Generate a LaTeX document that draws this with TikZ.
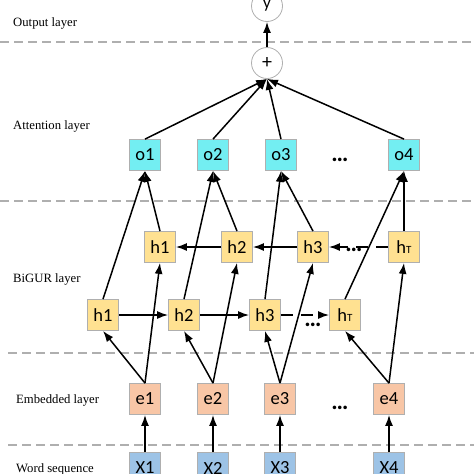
\documentclass[tikz,border=0pt]{standalone}
\usepackage{fontspec}
\setmainfont{Liberation Serif}
\newfontfamily\boxfont{Carlito}
\usetikzlibrary{arrows.meta}
\definecolor{ocol}{RGB}{115,238,242}
\definecolor{hcol}{RGB}{255,225,145}
\definecolor{ecol}{RGB}{248,198,166}
\definecolor{xcol}{RGB}{157,195,230}
\definecolor{bordercol}{RGB}{175,175,175}
\definecolor{sepcol}{RGB}{175,175,175}
\tikzset{
  unitbox/.style={draw=bordercol, line width=0.8pt, minimum width=31pt, minimum height=31pt, inner sep=0pt, font=\boxfont\fontsize{18.5}{20}\selectfont},
  obox/.style={unitbox, fill=ocol},
  hbox/.style={unitbox, fill=hcol},
  ebox/.style={unitbox, fill=ecol},
  xbox/.style={unitbox, fill=xcol},
  opcirc/.style={circle, draw=bordercol, line width=0.8pt, fill=white, minimum size=31pt, inner sep=0pt, font=\boxfont\fontsize{20}{22}\selectfont},
  layerlabel/.style={anchor=base west, inner sep=0pt, font=\fontsize{12.7}{14}\selectfont},
  sepline/.style={draw=sepcol, line width=1.2pt, dash pattern=on 9pt off 5pt},
  conn/.style={draw=black, line width=1.5pt, -{Latex[length=11pt,width=8pt]}},
  dconn/.style={conn, dash pattern=on 12pt off 8pt},
  dotsnode/.style={inner sep=0pt, font=\boxfont\bfseries\fontsize{24}{24}\selectfont},
}
\newcommand{\hT}{h{\fontsize{11}{11}\selectfont T}}
\begin{document}
\begin{tikzpicture}[x=1pt,y=-1pt]
\useasboundingbox (0,0) rectangle (474,474);
% separators
\draw[sepline] (0,42) -- (474,42);
\draw[sepline] (0,201) -- (474,201);
\draw[sepline] (8,353) -- (474,353);
\draw[sepline] (8,445) -- (474,445);
% labels
\node[layerlabel] (lout) at (13,26) {Output layer};
\node[layerlabel] (latt) at (13,129) {Attention layer};
\node[layerlabel] (lbi) at (13,282) {BiGUR layer};
\node[layerlabel] (lemb) at (16,403) {Embedded layer};
\node[layerlabel] (lword) at (16,472) {Word sequence};
% circles
\node[opcirc] (y) at (267,6) {\raisebox{-7pt}{\fontsize{17}{18}\selectfont y}};
\node[opcirc] (plus) at (267,63) {+};
% o row
\node[obox] (o1) at (145,155) {o1};
\node[obox] (o2) at (213,155) {o2};
\node[obox] (o3) at (281,155) {o3};
\node[obox] (o4) at (404,155) {o4};
% upper h row
\node[hbox] (b1) at (160,247) {h1};
\node[hbox] (b2) at (237,247) {h2};
\node[hbox] (b3) at (313,247) {h3};
\node[hbox] (bT) at (404,247) {\hT};
% lower h row
\node[hbox] (f1) at (103,315) {h1};
\node[hbox] (f2) at (184,315) {h2};
\node[hbox] (f3) at (265,315) {h3};
\node[hbox] (fT) at (345,315) {\hT};
% e row
\node[ebox] (e1) at (145,399) {e1};
\node[ebox] (e2) at (213,399) {e2};
\node[ebox] (e3) at (280,399) {e3};
\node[ebox] (e4) at (389,399) {e4};
% x row
\node[xbox] (x1) at (145,468) {X1};
\node[xbox] (x2) at (213,468) {X2};
\node[xbox] (x3) at (280,468) {X3};
\node[xbox] (x4) at (389,468) {X4};
% dots
\node[dotsnode] (d1) at (340,160) {\char"2026};
\node[dotsnode] (d2) at (354,250) {\char"2026};
\node[dotsnode] (d3) at (313,325) {\char"2026};
\node[dotsnode] (d4) at (340,408) {\char"2026};
% output
\draw[conn] (plus.north) -- (y.south);
\foreach \o in {o1,o2,o3,o4} \draw[conn] (\o.north) -- (plus.south);
% into o
\draw[conn] (f1.north) -- (o1.south);
\draw[conn] (b1.north) -- (o1.south);
\draw[conn] (f2.north) -- (o2.south);
\draw[conn] (b2.north) -- (o2.south);
\draw[conn] (f3.north) -- (o3.south);
\draw[conn] (b3.north) -- (o3.south);
\draw[conn] (fT.north) -- (o4.south);
\draw[conn] (bT.north) -- (o4.south);
% recurrent
\draw[conn] (b2.west) -- (b1.east);
\draw[conn] (b3.west) -- (b2.east);
\draw[dconn] (bT.west) -- (b3.east);
\draw[conn] (f1.east) -- (f2.west);
\draw[conn] (f2.east) -- (f3.west);
\draw[dconn] (f3.east) -- (fT.west);
% from e
\draw[conn] (e1.north) -- (f1.south);
\draw[conn] (e1.north) -- (b1.south);
\draw[conn] (e2.north) -- (f2.south);
\draw[conn] (e2.north) -- (b2.south);
\draw[conn] (e3.north) -- (f3.south);
\draw[conn] (e3.north) -- (b3.south);
\draw[conn] (e4.north) -- (fT.south);
\draw[conn] (e4.north) -- (bT.south);
% from x
\draw[conn] (x1.north) -- (e1.south);
\draw[conn] (x2.north) -- (e2.south);
\draw[conn] (x3.north) -- (e3.south);
\draw[conn] (x4.north) -- (e4.south);
\end{tikzpicture}
\end{document}
